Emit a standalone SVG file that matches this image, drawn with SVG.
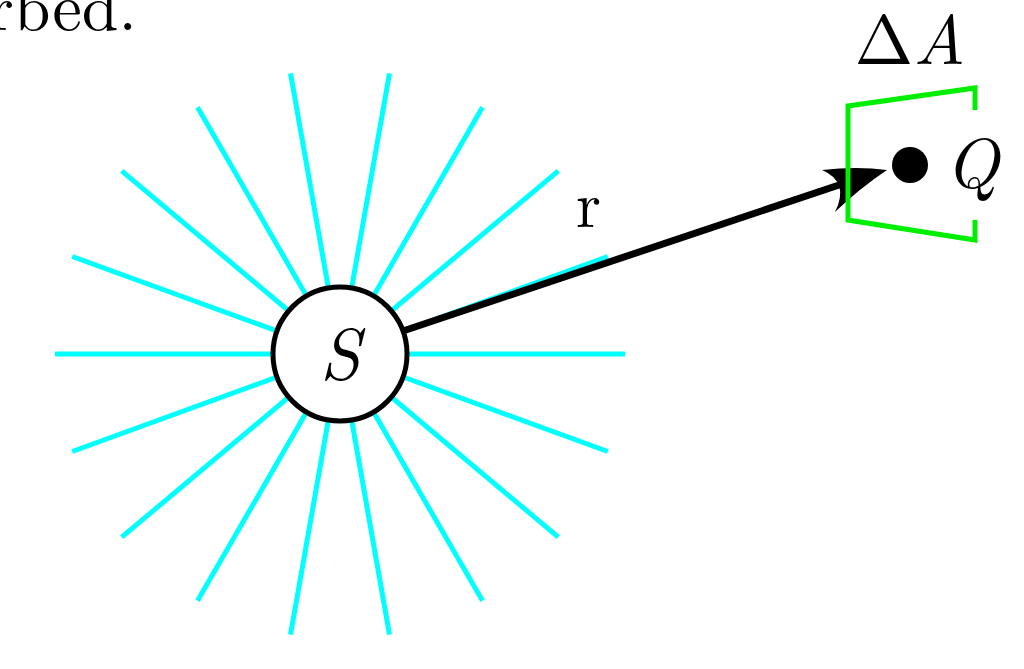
<svg xmlns="http://www.w3.org/2000/svg" width="1024" height="669" viewBox="0 0 1024 669">
<style>
.ray{stroke:#00ffff;stroke-width:5}
.t{font-family:"Latin Modern Roman","Liberation Serif",serif;fill:#000}
</style>
<rect width="1024" height="669" fill="#fff"/>
<text class="t" x="-12" y="30" font-size="66">rbed.</text>
<g id="rays">
<g transform="translate(340,354)">
<line class="ray" x1="0" y1="0" x2="285" y2="0" transform="rotate(0)"/>
<line class="ray" x1="0" y1="0" x2="285" y2="0" transform="rotate(20)"/>
<line class="ray" x1="0" y1="0" x2="285" y2="0" transform="rotate(40)"/>
<line class="ray" x1="0" y1="0" x2="285" y2="0" transform="rotate(60)"/>
<line class="ray" x1="0" y1="0" x2="285" y2="0" transform="rotate(80)"/>
<line class="ray" x1="0" y1="0" x2="285" y2="0" transform="rotate(100)"/>
<line class="ray" x1="0" y1="0" x2="285" y2="0" transform="rotate(120)"/>
<line class="ray" x1="0" y1="0" x2="285" y2="0" transform="rotate(140)"/>
<line class="ray" x1="0" y1="0" x2="285" y2="0" transform="rotate(160)"/>
<line class="ray" x1="0" y1="0" x2="285" y2="0" transform="rotate(180)"/>
<line class="ray" x1="0" y1="0" x2="285" y2="0" transform="rotate(200)"/>
<line class="ray" x1="0" y1="0" x2="285" y2="0" transform="rotate(220)"/>
<line class="ray" x1="0" y1="0" x2="285" y2="0" transform="rotate(240)"/>
<line class="ray" x1="0" y1="0" x2="285" y2="0" transform="rotate(260)"/>
<line class="ray" x1="0" y1="0" x2="285" y2="0" transform="rotate(280)"/>
<line class="ray" x1="0" y1="0" x2="285" y2="0" transform="rotate(300)"/>
<line class="ray" x1="0" y1="0" x2="285" y2="0" transform="rotate(320)"/>
<line class="ray" x1="0" y1="0" x2="285" y2="0" transform="rotate(340)"/>
</g>
</g>
<g id="connectors">
<line x1="400" y1="332" x2="866" y2="176" stroke="#000" stroke-width="7"/>
<path d="M887,170 Q857,166 822,170 Q850,182 835,212 Q860,188 887,170 Z" fill="#000"/>
<text class="t" x="576" y="227" font-size="64">r</text>
</g>
<g id="S">
<circle cx="340" cy="354" r="67" fill="#fff" stroke="#000" stroke-width="5"/>
<text class="t" x="340" y="379" font-size="72" font-style="italic" text-anchor="middle">S</text>
</g>
<g id="area">
<path d="M975,110 L975,88 L848,106 L848,220 L975,240 L975,220" fill="none" stroke="#00ee00" stroke-width="5"/>
<text class="t" x="910" y="64" font-size="70" text-anchor="middle">Δ<tspan font-style="italic">A</tspan></text>
</g>
<g id="Q">
<circle cx="910" cy="165" r="18" fill="#000"/>
<text class="t" x="972" y="187" font-size="70" font-style="italic" text-anchor="middle">Q</text>
</g>
</svg>
